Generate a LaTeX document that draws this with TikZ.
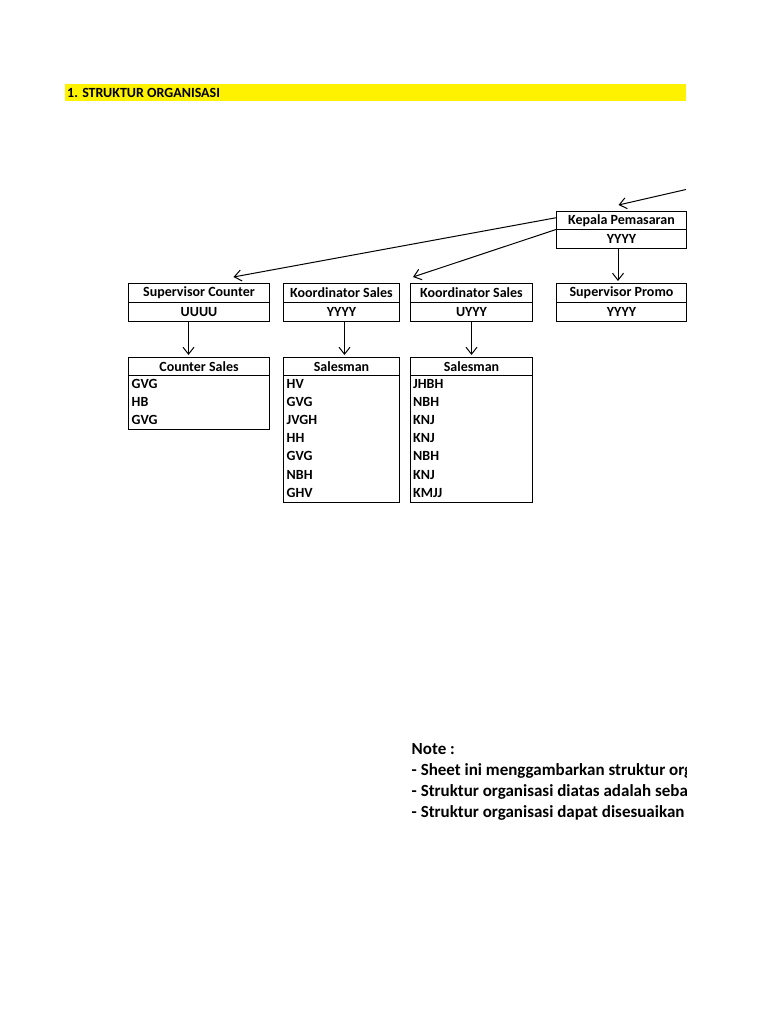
\documentclass[tikz,border=0pt]{standalone}
\usepackage{fontspec}
\setmainfont{Carlito}
\usetikzlibrary{arrows.meta}
\begin{document}
\begin{tikzpicture}[x=1pt,y=-1pt,
 cell/.style={draw, line width=1pt, inner sep=0pt, anchor=north west, font=\fontsize{14}{16}\selectfont\bfseries},
 item/.style={inner sep=0pt, anchor=west, font=\fontsize{14}{16}\selectfont\bfseries},
 conn/.style={line width=1pt, -{Straight Barb[length=7pt,width=11pt,line width=1pt]}},
 note/.style={inner sep=0pt, anchor=west, font=\fontsize{17}{20}\selectfont\bfseries}]
\useasboundingbox[fill=white] (0,0) rectangle (768,1024);

% title bar
\node[fill=yellow, anchor=north west, minimum width=621pt, minimum height=17pt, inner sep=0pt] (bar) at (65,84) {};
\node[anchor=west, inner sep=0pt, font=\fontsize{14}{16}\selectfont\bfseries] (title) at (67,92.5) {1. STRUKTUR ORGANISASI};

% Kepala Pemasaran
\node[cell, minimum width=130pt, minimum height=18.5pt] (kph) at (556,211) {Kepala Pemasaran};
\node[cell, minimum width=130pt, minimum height=18.5pt] (kpv) at (556,229.5) {YYYY};

% second level
\node[cell, minimum width=141pt, minimum height=19pt] (sch) at (128,283) {Supervisor Counter};
\node[cell, minimum width=141pt, minimum height=19pt] (scv) at (128,302) {UUUU};
\node[cell, minimum width=116pt, minimum height=19pt] (k1h) at (283,283) {Koordinator Sales};
\node[cell, minimum width=116pt, minimum height=19pt] (k1v) at (283,302) {YYYY};
\node[cell, minimum width=122pt, minimum height=19pt] (k2h) at (410,283) {Koordinator Sales};
\node[cell, minimum width=122pt, minimum height=19pt] (k2v) at (410,302) {UYYY};
\node[cell, minimum width=130pt, minimum height=19pt] (sph) at (556,283) {Supervisor Promo};
\node[cell, minimum width=130pt, minimum height=19pt] (spv) at (556,302) {YYYY};

% third level
\node[cell, minimum width=141pt, minimum height=18pt] (csh) at (128,357) {Counter Sales};
\node[cell, minimum width=141pt, minimum height=54.3pt] (csb) at (128,375) {};
\node[item] (cs1) at (131.5,384.05) {GVG};
\node[item] (cs2) at (131.5,402.15) {HB};
\node[item] (cs3) at (131.5,420.25) {GVG};

\node[cell, minimum width=116pt, minimum height=18pt] (s1h) at (283,357) {Salesman};
\node[cell, minimum width=116pt, minimum height=126.7pt] (s1b) at (283,375) {};
\node[item] (s11) at (286.5,384.05) {HV};
\node[item] (s12) at (286.5,402.15) {GVG};
\node[item] (s13) at (286.5,420.25) {JVGH};
\node[item] (s14) at (286.5,438.35) {HH};
\node[item] (s15) at (286.5,456.45) {GVG};
\node[item] (s16) at (286.5,474.55) {NBH};
\node[item] (s17) at (286.5,492.65) {GHV};

\node[cell, minimum width=122pt, minimum height=18pt] (s2h) at (410,357) {Salesman};
\node[cell, minimum width=122pt, minimum height=126.7pt] (s2b) at (410,375) {};
\node[item] (s21) at (413,384.05) {JHBH};
\node[item] (s22) at (413,402.15) {NBH};
\node[item] (s23) at (413,420.25) {KNJ};
\node[item] (s24) at (413,438.35) {KNJ};
\node[item] (s25) at (413,456.45) {NBH};
\node[item] (s26) at (413,474.55) {KNJ};
\node[item] (s27) at (413,492.65) {KMJJ};

% connectors
\coordinate (inc) at (686,189.5);
\draw[conn] (inc) -- ([xshift=-3pt,yshift=6pt]kph.north);
\draw[conn] ([yshift=3pt]kph.west) -- ([xshift=34.5pt,yshift=6pt]sch.north);
\draw[conn] (kpv.north west) -- ([xshift=3pt,yshift=6pt]k2h.north west);
\draw[conn, shorten >=2pt] ([xshift=-3.5pt]kpv.south) -- ([xshift=-3.5pt]sph.north);
\draw[conn, shorten >=2pt] ([xshift=-10.5pt]scv.south) -- ([xshift=-10.5pt]csh.north);
\draw[conn, shorten >=2pt] ([xshift=3pt]k1v.south) -- ([xshift=3pt]s1h.north);
\draw[conn, shorten >=2pt] (k2v.south) -- (s2h.north);

% notes (cut at the sheet edge, as in the reference)
\begin{scope}
\clip (0,0) rectangle (686,1024);
\node[note] (n0) at (411.5,749) {Note :};
\node[note] (n1) at (411.5,771) {- Sheet ini menggambarkan struktur org};
\node[note] (n2) at (411.5,792) {- Struktur organisasi diatas adalah sebag};
\node[note] (n3) at (411.5,813) {- Struktur organisasi dapat disesuaikan d};
\end{scope}
\end{tikzpicture}
\end{document}
